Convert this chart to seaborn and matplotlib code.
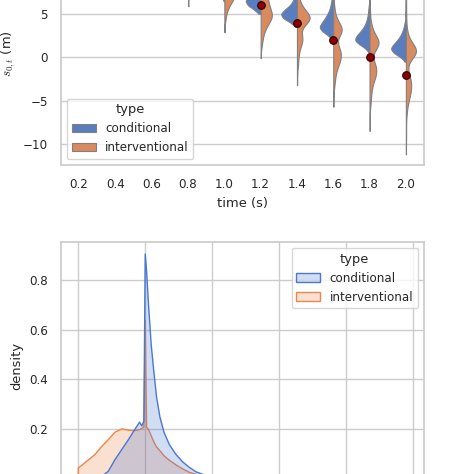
import numpy as np
import pandas as pd
import matplotlib
matplotlib.use("Agg")
import matplotlib.pyplot as plt
import seaborn as sns

sns.set_theme(style="whitegrid", palette="muted", font_scale=0.78)
plt.rcParams["mathtext.fontset"] = "cm"

# ---- top panel: split violins of s_{0,t} per time step ----
times = ["0.2", "0.4", "0.6", "0.8", "1.0", "1.2", "1.4", "1.6", "1.8", "2.0"]
truth = [16, 14, 12, 10, 8, 6, 4, 2, 0, -2]

# (value, count) pairs, one list per time step
cond_samples = [
    [(15, 4), (15.5, 16), (16, 34), (16.5, 38), (17, 26), (17.5, 14), (18, 7), (18.5, 3), (19, 2), (20, 1)],
    [(12.5, 2), (13, 8), (13.5, 22), (14, 36), (14.5, 38), (15, 28), (15.5, 18), (16, 10), (16.5, 5), (17, 3), (18, 2), (19, 1)],
    [(10.5, 2), (11, 6), (11.5, 18), (12, 32), (12.5, 38), (13, 30), (13.5, 20), (14, 12), (14.5, 7), (15, 4), (16, 3), (17, 2), (18, 1)],
    [(8.5, 2), (9, 6), (9.5, 18), (10, 32), (10.5, 38), (11, 30), (11.5, 20), (12, 12), (12.5, 7), (13, 4), (14, 3), (15, 2), (16, 1), (17, 1)],
    [(6.5, 2), (7, 6), (7.5, 18), (8, 32), (8.5, 38), (9, 30), (9.5, 20), (10, 12), (10.5, 7), (11, 4), (12, 3), (13, 2), (14, 1), (15, 1)],
    [(5, 4), (5.5, 16), (6, 32), (6.5, 38), (7, 30), (7.5, 20), (8, 12), (8.5, 7), (9, 4), (10, 3), (11, 2), (12, 1), (13, 1)],
    [(3.5, 3), (4, 14), (4.5, 32), (5, 38), (5.5, 28), (6, 16), (6.5, 9), (7, 6), (7.5, 4), (8, 3), (9, 2), (10, 1), (11, 1), (12, 1)],
    [(2, 3), (2.5, 12), (3, 30), (3.5, 38), (4, 30), (4.5, 22), (5, 15), (5.5, 10), (6, 7), (6.5, 5), (7, 3), (7.5, 2), (8, 2), (9, 1), (10, 1), (11, 1)],
    [(0.5, 2), (1, 8), (1.5, 26), (2, 38), (2.5, 32), (3, 22), (3.5, 14), (4, 9), (4.5, 6), (5, 4), (5.5, 3), (6, 2), (7, 1), (8, 1), (9, 1), (10, 1)],
    [(-0.5, 2), (0, 12), (0.5, 30), (1, 38), (1.5, 30), (2, 20), (2.5, 13), (3, 8), (3.5, 5), (4, 3), (5, 2), (6, 1), (7, 1), (8, 1), (9, 1)],
]
intv_samples = [
    [(13.5, 1), (14, 3), (14.5, 7), (15, 14), (15.5, 22), (16, 25), (16.5, 22), (17, 14), (17.5, 7), (18, 3), (18.5, 2), (19, 1)],
    [(10.5, 1), (11.5, 2), (12, 4), (12.5, 9), (13, 15), (13.5, 20), (14, 22), (14.5, 19), (15, 14), (15.5, 9), (16, 5), (16.5, 3), (17, 2), (18, 1)],
    [(8, 1), (9, 1), (9.5, 3), (10, 6), (10.5, 11), (11, 16), (11.5, 19), (12, 19), (12.5, 17), (13, 13), (13.5, 9), (14, 6), (14.5, 4), (15, 2), (16, 1), (17, 1)],
    [(5.9, 1), (7, 1), (7.5, 2), (8, 4), (8.5, 8), (9, 13), (9.5, 17), (10, 19), (10.5, 18), (11, 15), (11.5, 11), (12, 8), (12.5, 5), (13, 3), (14, 2), (15, 1), (16, 1)],
    [(2.9, 1), (4, 1), (4.5, 2), (5, 3), (5.5, 5), (6, 8), (6.5, 12), (7, 16), (7.5, 18), (8, 18), (8.5, 16), (9, 13), (9.5, 10), (10, 7), (10.5, 5), (11, 3), (12, 2), (13, 1), (14, 1)],
    [(-0.1, 1), (1, 1), (1.5, 2), (2, 3), (2.5, 4), (3, 6), (3.5, 9), (4, 13), (4.5, 17), (5, 18), (5.5, 15), (6, 13), (6.5, 12), (7, 10), (7.5, 7), (8, 5), (8.5, 3), (9, 2), (10, 1), (11, 1), (12, 1)],
    [(-3.2, 1), (-2, 1), (-1, 2), (-0.5, 2), (0, 2), (0.5, 3), (1, 4), (1.5, 7), (2, 9), (2.5, 8), (3, 5), (3.5, 8), (4, 16), (4.5, 22), (5, 18), (5.5, 11), (6, 7), (6.5, 4), (7, 3), (8, 2), (9, 1), (10, 1), (11, 1)],
    [(-5.7, 1), (-4.5, 1), (-3.5, 2), (-3, 2), (-2.5, 3), (-2, 4), (-1.5, 5), (-1, 8), (-0.5, 11), (0, 13), (0.5, 13), (1, 11), (1.5, 7), (2, 4), (2.5, 10), (3, 17), (3.5, 15), (4, 9), (4.5, 5), (5, 3), (5.5, 2), (6, 2), (7, 1), (8, 1), (9, 1), (10, 1)],
    [(-8.5, 1), (-7.5, 1), (-6.5, 1), (-5.5, 2), (-5, 2), (-4.5, 3), (-4, 3), (-3.5, 4), (-3, 6), (-2.5, 9), (-2, 12), (-1.5, 13), (-1, 12), (-0.5, 8), (0, 4), (0.5, 4), (1, 12), (1.5, 20), (2, 18), (2.5, 10), (3, 6), (3.5, 4), (4, 3), (5, 2), (6, 1), (7, 1), (8, 1), (9, 1)],
    [(-11.2, 1), (-9.5, 1), (-8.5, 1), (-7.5, 1), (-6.5, 2), (-6, 2), (-5.5, 3), (-5, 5), (-4.5, 7), (-4, 9), (-3.5, 10), (-3, 10), (-2.5, 9), (-2, 6), (-1.5, 3), (-1, 2), (-0.5, 4), (0, 12), (0.5, 24), (1, 22), (1.5, 12), (2, 6), (2.5, 4), (3, 3), (4, 2), (5, 1), (6, 1), (7, 1), (8, 1)],
]

# ---- bottom panel: density of the error, histogram bins ----
bin_edges = [-1.02, -0.98, -0.9, -0.8, -0.7, -0.6, -0.5, -0.4, -0.3, -0.2, -0.14, -0.1, -0.07,
             -0.03, -0.01, 0.01, 0.03, 0.07, 0.11, 0.15, 0.19, 0.25, 0.31, 0.41, 0.51, 0.61,
             0.71, 0.81, 0.91, 1.1, 1.5, 2.0, 3.0, 3.94]
cond_density = [0.001, 0.003, 0.005, 0.008, 0.012, 0.033, 0.08, 0.12, 0.16, 0.195, 0.215, 0.23,
                0.215, 0.235, 0.907, 0.84, 0.70, 0.54, 0.43, 0.33, 0.25, 0.19, 0.14, 0.10, 0.07,
                0.048, 0.03, 0.02, 0.012, 0.006, 0.003, 0.0015, 0.001]
intv_density = [0.046, 0.058, 0.078, 0.10, 0.132, 0.16, 0.19, 0.203, 0.198, 0.196, 0.198, 0.20,
                0.205, 0.21, 0.64, 0.21, 0.20, 0.175, 0.15, 0.13, 0.115, 0.095, 0.077, 0.058,
                0.042, 0.028, 0.02, 0.012, 0.007, 0.003, 0.002, 0.001, 0.0005]

rows = []
for t, pairs in zip(times, cond_samples):
    for v, n in pairs:
        rows += [(t, "conditional", v)] * n
for t, pairs in zip(times, intv_samples):
    for v, n in pairs:
        rows += [(t, "interventional", v)] * n
df = pd.DataFrame(rows, columns=["time", "type", "s"])

edges = np.array(bin_edges)
centers = (edges[:-1] + edges[1:]) / 2
dens = pd.DataFrame({
    "x": np.concatenate([centers, centers]),
    "w": cond_density + intv_density,
    "type": ["conditional"] * len(centers) + ["interventional"] * len(centers),
})

fig = plt.figure(figsize=(4.74, 4.74), dpi=100)
ax1 = fig.add_axes([0.1287, 0.6519, 0.7658, 0.4684])
ax2 = fig.add_axes([0.1287, -0.0338, 0.7658, 0.5232])

sns.violinplot(data=df, x="time", y="s", hue="type", order=times,
               hue_order=["conditional", "interventional"], split=True, inner=None,
               cut=0, bw_adjust=0.6, width=1.1, linewidth=0.8, linecolor=".5", ax=ax1)
sns.stripplot(x=times, y=truth, order=times, jitter=False, color="#8b0000", size=5.5,
              linewidth=0.8, edgecolor="#300000", zorder=5, ax=ax1)
ax1.set_xlim(-0.5, 9.5)
ax1.set_ylim(-12.43, 13.19)
ax1.set_yticks([-10, -5, 0, 5])
ax1.set_xlabel("time (s)")
ax1.set_ylabel(r"$s_{0,t}$ (m)")
sns.move_legend(ax1, "lower left", title="type")

sns.histplot(data=dens, x="x", weights="w", hue="type", bins=bin_edges, element="poly",
             stat="count", common_norm=False, hue_order=["conditional", "interventional"],
             ax=ax2)
ax2.set_xlim(-1.25, 4.17)
ax2.set_ylim(-0.045, 0.953)
ax2.set_xticks([-1, 0, 1, 2, 3, 4])
ax2.set_yticks([0.2, 0.4, 0.6, 0.8])
ax2.tick_params(labelbottom=False)
ax2.set_xlabel("")
ax2.set_ylabel("density")
sns.move_legend(ax2, "upper right", title="type")

fig.savefig("out.png", dpi=100)
